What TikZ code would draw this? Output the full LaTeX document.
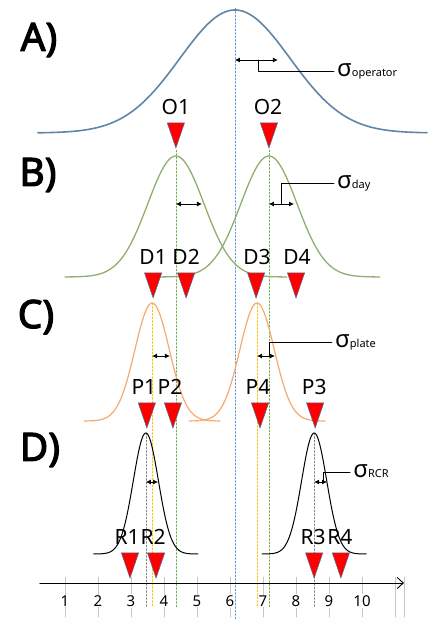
\documentclass[tikz,border=0pt]{standalone}
\usepackage{fontspec}
\setmainfont{Noto Sans}
\newfontfamily\partfont{Noto Sans}[FakeBold=3]
\usetikzlibrary{arrows.meta}

\definecolor{curveA}{RGB}{96,133,166}
\definecolor{curveB}{RGB}{143,174,112}
\definecolor{curveC}{RGB}{244,170,110}
\definecolor{lineblue}{RGB}{91,155,213}
\definecolor{linegreen}{RGB}{112,173,71}
\definecolor{lineorange}{RGB}{255,192,0}
\definecolor{triedge}{RGB}{65,113,156}

% triangle x, label x, top y, name, text
\newcommand{\marker}[5]{%
  \filldraw[tri] (#1,#3) ++(-0.26,0) -- ++(0.52,0) -- (#1,#3-25) -- cycle;
  \node[lbl] (#4) at (#2,#3+8) {#5};}

\begin{document}
\begin{tikzpicture}[x=33pt, y=1pt, line cap=round, line join=round,
    tri/.style={fill=red, draw=triedge, line width=0.5pt, line join=miter},
    lbl/.style={anchor=base, inner sep=0pt, font=\fontsize{21}{21}\selectfont},
    part/.style={inner sep=0pt, font=\partfont\fontsize{39}{39}\selectfont},
    sig/.style={anchor=west, inner sep=3pt, text height=14pt, text depth=3pt},
    vline/.style={line width=0.45pt, dash pattern=on 2pt off 1.5pt},
    dim/.style={{Latex[length=5pt,width=5pt]}-{Latex[length=5pt,width=5pt]}, line width=0.8pt},
    callout/.style={line width=0.7pt},
    tick/.style={gray!45, line width=0.8pt},
    num/.style={fill=white, inner sep=1pt, font=\fontsize{15}{15}\selectfont}]
    \useasboundingbox (-0.97,0) rectangle (11.97,619);

    % guide lines
    \draw[vline, lineblue] (6.15,611) -- (6.15,0);
    \foreach \v in {4.36,7.18} \draw[vline, linegreen] (\v,469) -- (\v,12);
    \foreach \v in {3.64,6.82} \draw[vline, lineorange] (\v,316) -- (\v,12);
    \foreach \v in {3.45,8.55} \draw[vline, gray] (\v,186) -- (\v,11);

    % axis
    \foreach \v in {1,...,11,11.27} \draw[tick] (\v,42) -- (\v,2);
    \draw[-{Straight Barb[length=6pt,width=11pt]}, line width=0.9pt] (0.24,36) -- (11.27,36);
    \foreach \v in {1,...,10} \node[num] (n\v) at (\v,18) {\v};

    % distributions
    \draw[curveA, line width=1.6pt, domain=0.18:11.97, samples=150]
      plot (\x, {486+123*exp(-0.5*((\x-6.15)/1.67)^2)});
    \foreach \m in {4.36,7.18}
      \draw[curveB, line width=1.3pt, domain=\m-3.36:\m+3.36, samples=100]
        plot (\x, {342+121*exp(-0.5*((\x-\m)/0.85)^2)});
    \foreach \m in {3.64,6.82}
      \draw[curveC, line width=1.2pt, domain=\m-2.06:\m+2.06, samples=100]
        plot (\x, {198+118*exp(-0.5*((\x-\m)/0.52)^2)});
    \foreach \m in {3.45,8.55}
      \draw[black, line width=1pt, domain=\m-1.58:\m+1.58, samples=100]
        plot (\x, {65+121*exp(-0.5*((\x-\m)/0.38)^2)});

    % panel letters
    \node[part] (pA) at (0.21,579) {A)};
    \node[part] (pB) at (0.18,444) {B)};
    \node[part] (pC) at (0.12,302) {C)};
    \node[part] (pD) at (0.24,169) {D)};

    % measurements
    \marker{4.36}{4.36}{496}{O1}{O1}
    \marker{7.18}{7.15}{496}{O2}{O2}
    \marker{3.67}{3.67}{346}{D1}{D1}
    \marker{4.67}{4.67}{346}{D2}{D2}
    \marker{6.79}{6.82}{346}{D3}{D3}
    \marker{8.00}{8.03}{346}{D4}{D4}
    \marker{3.48}{3.39}{216}{P1}{P1}
    \marker{4.27}{4.18}{216}{P2}{P2}
    \marker{6.91}{6.85}{216}{P4}{P4}
    \marker{8.58}{8.55}{216}{P3}{P3}
    \marker{2.97}{2.88}{66}{R1}{R1}
    \marker{3.76}{3.67}{66}{R2}{R2}
    \marker{8.55}{8.52}{66}{R3}{R3}
    \marker{9.36}{9.33}{66}{R4}{R4}

    % sigma widths
    \draw[dim] (6.15,559) -- (7.45,559) coordinate[pos=0.54] (cOp);
    \draw[dim] (4.36,415) -- (5.15,415);
    \draw[dim] (7.18,415) -- (7.94,415) coordinate[pos=0.49] (cDay);
    \draw[dim] (3.64,263) -- (4.18,263);
    \draw[dim] (6.82,263) -- (7.36,263) coordinate[pos=0.67] (cPlate);
    \draw[dim] (3.45,137) -- (3.82,137);
    \draw[dim] (8.55,137) -- (8.94,137) coordinate[pos=0.69] (cRcr);

    \node[sig] (sOp) at (9.15,548) {\fontsize{24}{24}\selectfont σ\fontsize{11}{11}\selectfont operator};
    \node[sig] (sDay) at (9.15,436) {\fontsize{24}{24}\selectfont σ\fontsize{11}{11}\selectfont day};
    \node[sig] (sPlate) at (9.09,277) {\fontsize{24}{24}\selectfont σ\fontsize{11}{11}\selectfont plate};
    \node[sig] (sRcr) at (9.64,147) {\fontsize{24}{24}\selectfont σ\fontsize{11}{11}\selectfont RCR};

    \draw[callout] (cOp) |- (sOp.west);
    \draw[callout] (cDay) |- (sDay.west);
    \draw[callout] (cPlate) |- (sPlate.west);
    \draw[callout] (cRcr) |- (sRcr.west);
  \end{tikzpicture}
\end{document}
